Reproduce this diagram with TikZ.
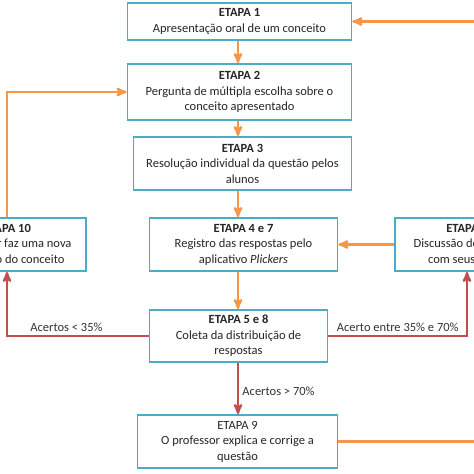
\documentclass[tikz,border=0pt]{standalone}
\usepackage{fontspec}
\setmainfont{Carlito}
\usepackage{tikz}
\usetikzlibrary{arrows}
\usetikzlibrary{positioning}
\definecolor{boxblue}{RGB}{75,172,198}
\definecolor{arrorange}{RGB}{247,150,70}
\definecolor{arrred}{RGB}{192,80,77}

\begin{document}
\begin{tikzpicture}[x=1pt,y=-1pt,>=stealth',thick,
    etapa/.style={rectangle,draw=boxblue,line width=1.8pt,align=center,fill=white,
      font=\fontsize{12.5}{15.5}\selectfont,text=black!85,inner sep=2pt,minimum height=#1},
    etapa/.default=53pt,
    go/.style={->,draw=arrorange,line width=2.3pt},
    fail/.style={->,draw=arrred,line width=2.3pt},
    lbl/.style={font=\fontsize{12.5}{14}\selectfont,text=black!80}]
   \useasboundingbox[fill=white] (0,0) rectangle (474,474);
   % column of steps
   \node[etapa=37pt,minimum width=224pt] (b1) at (239.5,21.5) {\textbf{ETAPA 1}\\Apresentação oral de um conceito};
   \node[etapa=56pt,minimum width=224pt] (b2) at (239.5,92) {\textbf{ETAPA 2}\\Pergunta de múltipla escolha sobre o\\conceito apresentado};
   \node[etapa,minimum width=218pt] (b3) at (242.5,163.5) {\textbf{ETAPA 3}\\Resolução individual da questão pelos\\alunos};
   \node[etapa,minimum width=188pt] (b4) at (243.5,244.5) {\textbf{ETAPA 4 e 7}\\Registro das respostas pelo\\aplicativo \textit{Plickers}};
   \node[etapa=52pt,minimum width=178pt] (b5) at (238.5,336) {\textbf{ETAPA 5 e 8}\\Coleta da distribuição de\\respostas};
   \node[etapa,minimum width=200pt] (b9) at (237.5,441.5) {ETAPA 9\\O professor explica e corrige a\\questão};
   % side steps
   \node[etapa,minimum width=158pt] (b10) at (7,244.5) {\textbf{ETAPA 10}\\O professor faz uma nova\\explicação do conceito};
   \node[etapa,minimum width=144pt] (b6) at (467,244.5) {\textbf{ETAPA 6}\\Discussão dos alunos\\com seus pares};
   \coordinate (spine) at (238,0);
   % main flow
   \draw[go] (b1.south -| spine) -- (b2.north -| spine);
   \draw[go] (b2.south -| spine) -- (b3.north -| spine);
   \draw[go] (b3.south -| spine) -- (b4.north -| spine);
   \draw[go] (b4.south -| spine) -- (b5.north -| spine);
   \draw[go] (b6.west) -- (b4.east);
   \draw[go] (b10.north) |- (b2.west);
   \draw[go] (b9.east) -- (490,441.5) |- (b1.east);
   % outcomes
   \draw[fail] (b5.west) -| node[lbl,above,pos=0.29] {Acertos < 35\%} (b10.south);
   \draw[fail] (b5.east) -| node[lbl,above,pos=0.25] {Acerto entre 35\% e 70\%} (b6.south);
   \draw[fail] (b5.south -| spine) -- node[lbl,right,pos=0.55] {Acertos > 70\%} (b9.north -| spine);
\end{tikzpicture}
\end{document}
